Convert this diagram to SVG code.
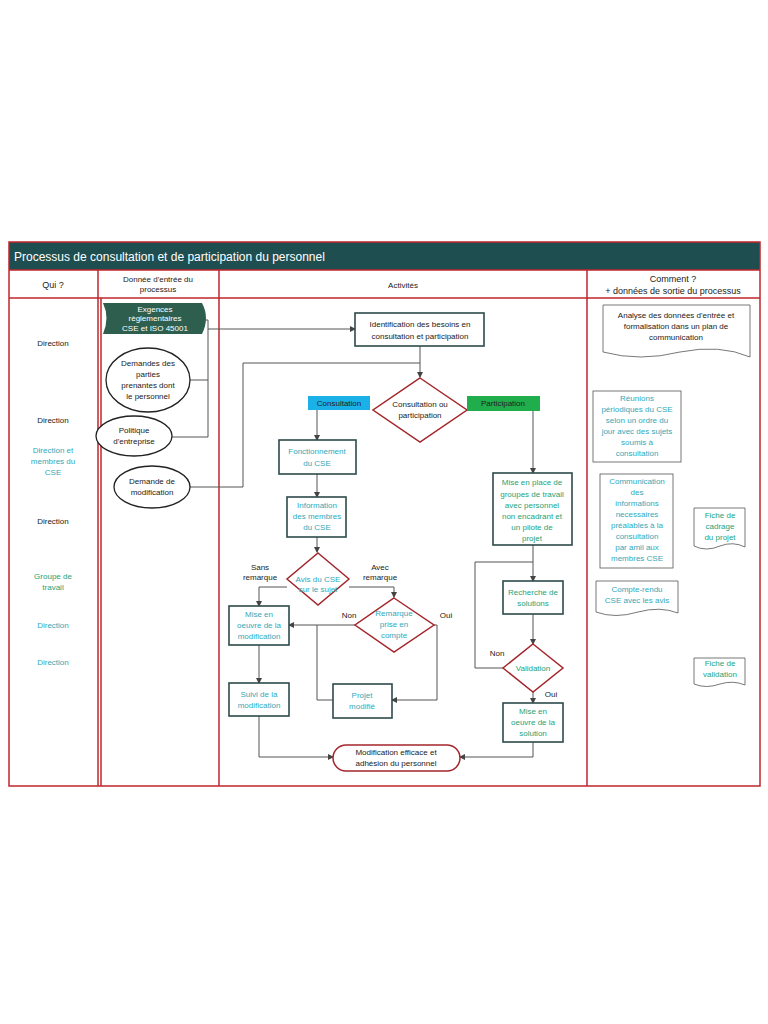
<svg xmlns="http://www.w3.org/2000/svg" width="768" height="1024" viewBox="0 0 768 1024">
<defs>
<marker id="ar" markerWidth="6" markerHeight="6" refX="5" refY="3" orient="auto" markerUnits="userSpaceOnUse"><path d="M0,0 L6,3 L0,6 z" fill="#444"/></marker>
<style>
text{font-family:"Liberation Sans",Arial,sans-serif;font-size:8px;text-anchor:middle;fill:#222}
.t{fill:#2fa9bb}.g{fill:#23a37a}.w{fill:#fff}
.box{fill:#fff;stroke:#2e4a4a;stroke-width:1.6}
.red{fill:#fff;stroke:#a4262c;stroke-width:1.5}
.doc{fill:#fff;stroke:#555;stroke-width:0.8}
.c{fill:none;stroke:#555;stroke-width:1}
.c2{fill:none;stroke:#555;stroke-width:1;marker-end:url(#ar)}
.grid{stroke:#c0262d;stroke-width:1.5;fill:none}
</style>
</defs>
<rect width="768" height="1024" fill="#fff"/>
<g id="frame">
<rect x="9" y="242" width="751" height="28" fill="#1f4e50"/>
<text x="14" y="261" class="w" style="font-size:12px;text-anchor:start">Processus de consultation et de participation du personnel</text>
<rect x="9" y="242" width="751" height="544" class="grid"/>
<line x1="9" y1="270" x2="760" y2="270" class="grid"/>
<line x1="9" y1="298" x2="760" y2="298" class="grid"/>
<line x1="98" y1="270" x2="98" y2="786" class="grid"/>
<line x1="101" y1="298" x2="101" y2="786" class="grid"/>
<line x1="219" y1="270" x2="219" y2="786" class="grid"/>
<line x1="587" y1="270" x2="587" y2="786" class="grid"/>
<text x="53" y="288" style="font-size:9px">Qui ?</text>
<text x="158" y="282">Donnée d'entrée du</text><text x="158" y="292">processus</text>
<text x="403" y="288">Activités</text>
<text x="673" y="282" style="font-size:9px">Comment ?</text>
<text x="673" y="294" style="font-size:9px">+ données de sortie du processus</text>
</g>
<g id="qui">
<text x="53" y="346">Direction</text>
<text x="53" y="423">Direction</text>
<text x="53" y="453" class="t">Direction et</text><text x="53" y="464" class="t">membres du</text><text x="53" y="475" class="t">CSE</text>
<text x="53" y="524">Direction</text>
<text x="53" y="579" class="g">Groupe de</text><text x="53" y="590" class="g">travail</text>
<text x="53" y="628" class="t">Direction</text>
<text x="53" y="665" class="t">Direction</text>
</g>
<g id="connectors">
<polyline points="192,320 208,320 208,437 172,437" class="c"/>
<line x1="190" y1="380" x2="208" y2="380" class="c"/>
<line x1="208" y1="329" x2="355" y2="329" class="c2"/>
<polyline points="190,487 243,487 243,363 420,363" class="c"/>
<line x1="420" y1="346" x2="420" y2="377" class="c2"/>
<line x1="317" y1="410" x2="317" y2="440" class="c2"/>
<line x1="317" y1="474" x2="317" y2="497" class="c2"/>
<line x1="317" y1="537" x2="317" y2="552" class="c2"/>
<polyline points="287,587 259,587 259,606" class="c2"/>
<polyline points="349,587 394,587 394,597" class="c2"/>
<line x1="355" y1="625" x2="289" y2="625" class="c2"/>
<polyline points="317,625 317,700 333,700" class="c"/>
<polyline points="434,625 437,625 437,700 392,700" class="c2"/>
<line x1="259" y1="645" x2="259" y2="683" class="c2"/>
<polyline points="259,716 259,757 333,757" class="c2"/>
<line x1="533" y1="411" x2="533" y2="473" class="c2"/>
<line x1="533" y1="545" x2="533" y2="581" class="c2"/>
<polyline points="503,668 475,668 475,562 533,562" class="c"/>
<line x1="533" y1="614" x2="533" y2="644" class="c2"/>
<line x1="533" y1="692" x2="533" y2="703" class="c2"/>
<polyline points="533,742 533,757 460,757" class="c2"/>
<text x="260" y="570">Sans</text><text x="260" y="580">remarque</text>
<text x="380" y="570">Avec</text><text x="380" y="580">remarque</text>
<text x="349" y="618">Non</text><text x="446" y="618">Oui</text>
<text x="497" y="656">Non</text><text x="551" y="697">Oui</text>
</g>
<g id="n-exig"><path d="M103,303 H202 Q210,318 202,334 H103 Q110,318 103,303 z" fill="#2e5e4e"/>
<text x="155" y="312" class="w">Exgences</text><text x="155" y="321" class="w">règlementaires</text><text x="155" y="331" class="w">CSE et ISO 45001</text></g>
<g id="n-dem"><ellipse cx="148" cy="380" rx="42" ry="32" fill="#fff" stroke="#222" stroke-width="1.3"/>
<text x="148" y="366">Demandes des</text><text x="148" y="377">parties</text><text x="148" y="388">prenantes dont</text><text x="148" y="399">le personnel</text></g>
<g id="n-pol"><ellipse cx="134" cy="436" rx="38" ry="20" fill="#fff" stroke="#222" stroke-width="1.3"/>
<text x="134" y="433">Politique</text><text x="134" y="444">d'entreprise</text></g>
<g id="n-mod"><ellipse cx="152" cy="487" rx="38" ry="21" fill="#fff" stroke="#222" stroke-width="1.3"/>
<text x="152" y="484">Demande de</text><text x="152" y="495">modification</text></g>
<g id="n-ident"><rect x="355" y="313" width="129" height="33" class="box"/>
<text x="420" y="327">Identification des besoins en</text><text x="420" y="339">consultation et participation</text></g>
<g id="n-cop"><polygon points="420,378 467,410 420,442 373,410" class="red"/>
<text x="420" y="407">Consultation ou</text><text x="420" y="418">participation</text></g>
<g id="n-cons"><rect x="308" y="396" width="62" height="14" fill="#1ab0e8"/><text x="339" y="406">Consultation</text></g>
<g id="n-part"><rect x="467" y="396" width="73" height="15" fill="#1fae4b"/><text x="503" y="406">Participation</text></g>
<g id="n-fonc"><rect x="279" y="440" width="77" height="34" class="box"/>
<text x="317" y="454" class="t">Fonctionnement</text><text x="317" y="466" class="t">du CSE</text></g>
<g id="n-info"><rect x="287" y="497" width="59" height="40" class="box"/>
<text x="317" y="508" class="t">Information</text><text x="317" y="519" class="t">des membres</text><text x="317" y="530" class="t">du CSE</text></g>
<g id="n-avis"><polygon points="318,553 349,579 318,605 287,579" class="red"/>
<text x="318" y="582" class="t">Avis du CSE</text><text x="318" y="592" class="t">sur le sujet</text></g>
<g id="n-rem"><polygon points="394,598 434,625 394,652 355,625" class="red"/>
<text x="394" y="616" class="t">Remarque</text><text x="394" y="627" class="t">prise en</text><text x="394" y="638" class="t">compte</text></g>
<g id="n-mise"><rect x="229" y="606" width="60" height="39" class="box"/>
<text x="259" y="617" class="t">Mise en</text><text x="259" y="628" class="t">oeuvre de la</text><text x="259" y="639" class="t">modification</text></g>
<g id="n-suivi"><rect x="229" y="683" width="60" height="33" class="box"/>
<text x="259" y="697" class="t">Suivi de la</text><text x="259" y="708" class="t">modification</text></g>
<g id="n-proj"><rect x="333" y="684" width="59" height="34" class="box"/>
<text x="362" y="698" class="t">Projet</text><text x="362" y="709" class="t">modifié</text></g>
<g id="n-fin"><rect x="333" y="745" width="127" height="26" rx="13" class="red"/>
<text x="396" y="755">Modification efficace et</text><text x="396" y="766">adhésion du personnel</text></g>
<g id="n-grp"><rect x="493" y="473" width="79" height="72" class="box"/>
<text x="532" y="485" class="g">Mise en place de</text><text x="532" y="497" class="g">groupes de travail</text><text x="532" y="508" class="g">avec personnel</text><text x="532" y="519" class="g">non encadrant et</text><text x="532" y="530" class="g">un pilote de</text><text x="532" y="541" class="g">projet</text></g>
<g id="n-rech"><rect x="503" y="581" width="60" height="33" class="box"/>
<text x="533" y="595" class="g">Recherche de</text><text x="533" y="606" class="g">solutions</text></g>
<g id="n-val"><polygon points="533,644 563,668 533,692 503,668" class="red"/>
<text x="533" y="671" class="g">Validation</text></g>
<g id="n-sol"><rect x="503" y="703" width="60" height="39" class="box"/>
<text x="533" y="714" class="g">Mise en</text><text x="533" y="725" class="g">oeuvre de la</text><text x="533" y="736" class="g">solution</text></g>
<g id="n-ana"><path d="M603,305 H750 V357 Q720,344 680,352 Q640,362 603,352 z" class="doc"/>
<text x="676" y="318">Analyse des données d'entrée et</text><text x="676" y="329">formalisation dans un plan de</text><text x="676" y="340">communication</text></g>
<g id="n-reu"><rect x="593" y="391" width="88" height="71" class="doc"/>
<text x="637" y="401" class="t">Réunions</text><text x="637" y="412" class="t">périodiques du CSE</text><text x="637" y="423" class="t">selon un ordre du</text><text x="637" y="434" class="t">jour avec des sujets</text><text x="637" y="445" class="t">soumis à</text><text x="637" y="456" class="t">consultation</text></g>
<g id="n-com"><rect x="600" y="474" width="73" height="94" class="doc"/>
<text x="637" y="484" class="t">Communication</text><text x="637" y="495" class="t">des</text><text x="637" y="506" class="t">informations</text><text x="637" y="517" class="t">necessaires</text><text x="637" y="528" class="t">préalables à la</text><text x="637" y="539" class="t">consultation</text><text x="637" y="550" class="t">par amil aux</text><text x="637" y="561" class="t">membres CSE</text></g>
<g id="n-cad"><path d="M694,508 H745 V547 Q733,541 720,546 Q706,552 694,546 z" class="doc"/>
<text x="720" y="518" class="g">Fiche de</text><text x="720" y="529" class="g">cadrage</text><text x="720" y="540" class="g">du projet</text></g>
<g id="n-cr"><path d="M596,581 H678 V613 Q660,606 638,612 Q615,619 596,612 z" class="doc"/>
<text x="637" y="592" class="t">Compte-rendu</text><text x="637" y="603" class="t">CSE avec les avis</text></g>
<g id="n-fval"><path d="M694,658 H745 V685 Q733,680 720,684 Q706,689 694,684 z" class="doc"/>
<text x="720" y="666" class="g">Fiche de</text><text x="720" y="677" class="g">validation</text></g>
</svg>
